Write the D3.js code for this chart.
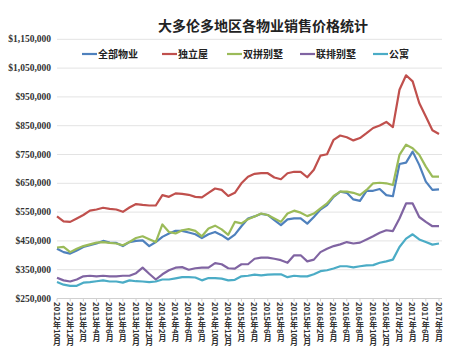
<!DOCTYPE html>
<html><head><meta charset="utf-8">
<script src="https://cdn.jsdelivr.net/npm/d3@7"></script>
<style>
html,body{margin:0;padding:0;background:#fff;}
svg{display:block;}
</style></head>
<body>
<svg id="chart" width="474" height="358"></svg>
<script>
const title = "大多伦多地区各物业销售价格统计";
const months = ["2012年10月","2012年11月","2012年12月",
"2013年1月","2013年2月","2013年3月","2013年4月","2013年5月","2013年6月","2013年7月","2013年8月","2013年9月","2013年10月","2013年11月","2013年12月",
"2014年1月","2014年2月","2014年3月","2014年4月","2014年5月","2014年6月","2014年7月","2014年8月","2014年9月","2014年10月","2014年11月","2014年12月",
"2015年1月","2015年2月","2015年3月","2015年4月","2015年5月","2015年6月","2015年7月","2015年8月","2015年9月","2015年10月","2015年11月","2015年12月",
"2016年1月","2016年2月","2016年3月","2016年4月","2016年5月","2016年6月","2016年7月","2016年8月","2016年9月","2016年10月","2016年11月","2016年12月",
"2017年1月","2017年2月","2017年3月","2017年4月","2017年5月","2017年6月","2017年7月","2017年8月"];
const seriesNames = ["全部物业","独立屋","双拼别墅","联排别墅","公寓"];
const seriesColors = ["#4F81BD","#C0504D","#9BBB59","#8064A2","#4BACC6"];
// values in thousands of dollars
const allProperty = [423,411,406,417,429,435,441,450,444,443,432,446,450,452,432,446,464,476,485,485,479,473,460,473,481,470,455,472,501,528,535,
544,540,522,505,525,528,528,510,533,559,574,603,621,617,594,589,624,624,630,609,605,717,722,760,714,656,627,629];
const detached = [535,518,516,528,540,555,559,565,561,559,551,566,578,575,573,573,609,603,615,613,610,603,601,617,632,627,606,617,650,673,683,
685,685,670,664,685,690,690,671,697,746,751,801,816,810,799,807,824,842,851,863,845,975,1025,1004,929,882,834,821];
const semiDetached = [427,429,411,423,432,438,444,446,443,441,435,446,460,466,456,446,507,481,476,487,491,485,466,493,503,490,471,516,511,525,535,
545,540,528,516,545,555,548,536,545,563,580,606,621,621,617,609,627,650,652,650,644,749,784,772,749,708,673,673];
const townhouse = [322,313,309,316,327,329,327,329,327,327,329,329,338,357,336,316,334,348,357,359,350,355,357,357,373,369,355,354,369,369,388,
392,392,388,383,374,400,400,379,385,411,423,432,438,446,441,444,455,466,478,487,484,528,580,580,533,516,501,501];
const condo = [307,298,294,294,305,307,310,313,309,309,305,313,310,309,307,309,316,316,320,324,324,323,313,321,321,319,313,315,327,329,333,
330,333,334,334,324,329,327,327,334,345,348,354,362,362,358,362,365,366,374,379,385,429,458,473,455,446,437,441];
const yTicks = [250000,350000,450000,550000,650000,750000,850000,950000,1050000,1150000];

const seriesValues = [allProperty, detached, semiDetached, townhouse, condo];

const svg = d3.select("#chart");
const x = d3.scalePoint().domain(months).range([57, 439]);
const y = d3.scaleLinear().domain([250000, 1150000]).range([298.5, 39.3]);

// gridlines
svg.append("g").selectAll("line").data(yTicks).join("line")
  .attr("x1", 57).attr("x2", 442)
  .attr("y1", d => y(d)).attr("y2", d => y(d))
  .attr("stroke", d => d === 250000 ? "#d0d0d0" : "#e3e3e3").attr("stroke-width", 1);

// y labels
const fmt = d3.format("$,");
svg.append("g").selectAll("text").data(yTicks).join("text")
  .attr("x", 51).attr("y", d => y(d) + 3)
  .attr("text-anchor", "end")
  .attr("font-family", "'Liberation Serif', serif").attr("font-weight", "bold")
  .attr("font-size", 9.5).attr("fill", "#333")
  .text(d => fmt(d));

// x ticks & labels (every second category)
const shown = months.filter((m, i) => i % 2 === 0);
svg.append("g").selectAll("line").data(shown).join("line")
  .attr("x1", d => x(d)).attr("x2", d => x(d))
  .attr("y1", 298.5).attr("y2", 301.5)
  .attr("stroke", "#d0d0d0");
svg.append("g").selectAll("text").data(shown).join("text")
  .attr("transform", d => `translate(${x(d)},302)`)
  .style("writing-mode", "vertical-rl")
  .attr("font-family", "'Noto Sans CJK SC', sans-serif").attr("font-weight", "bold")
  .attr("font-size", 8).attr("fill", "#333")
  .text(d => d);

// lines
const line = d3.line().x((d, i) => x(months[i])).y(d => y(d * 1000));
svg.append("g").selectAll("path").data(seriesValues).join("path")
  .attr("d", d => line(d))
  .attr("fill", "none")
  .attr("stroke", (d, i) => seriesColors[i])
  .attr("stroke-width", 2.2)
  .attr("stroke-linejoin", "round");

// title
svg.append("text").attr("x", 263).attr("y", 31)
  .attr("text-anchor", "middle")
  .attr("font-family", "'Noto Sans CJK SC', sans-serif").attr("font-weight", "bold")
  .attr("font-size", 14).attr("fill", "#222")
  .text(title);

// legend
const legendX = [82, 162, 227, 300, 373];
const lg = svg.append("g").selectAll("g").data(seriesNames).join("g")
  .attr("transform", (d, i) => `translate(${legendX[i]},54)`);
lg.append("line").attr("x1", 0).attr("x2", 15).attr("y1", 0).attr("y2", 0)
  .attr("stroke", (d, i) => seriesColors[i]).attr("stroke-width", 2.2);
lg.append("text").attr("x", 16).attr("y", 4)
  .attr("font-family", "'Noto Sans CJK SC', sans-serif").attr("font-weight", "bold")
  .attr("font-size", 10).attr("fill", "#222")
  .text(d => d);
</script>
</body></html>
